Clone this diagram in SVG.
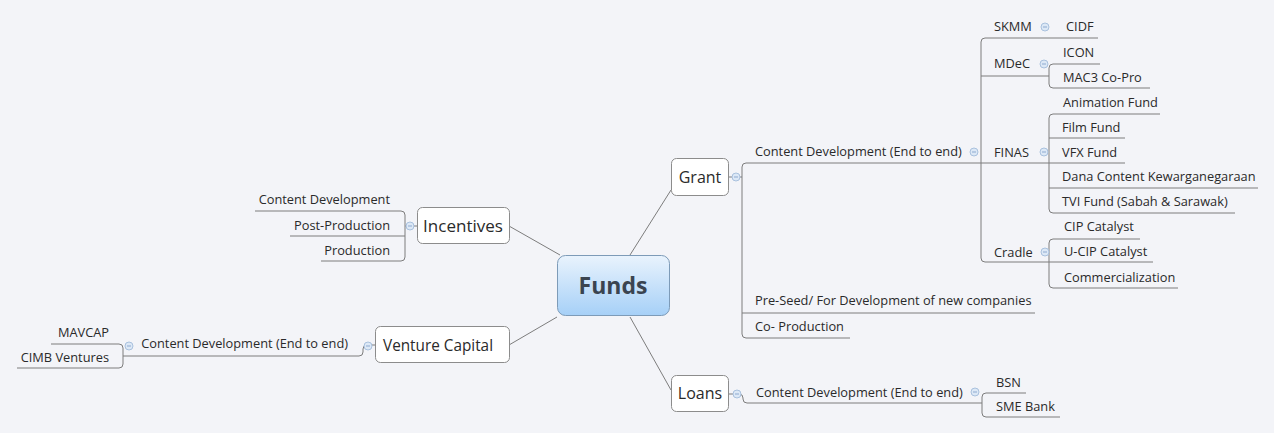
<svg xmlns="http://www.w3.org/2000/svg" width="1274" height="433" viewBox="0 0 1274 433">
<defs>
<linearGradient id="cg" x1="0" y1="0" x2="0" y2="1">
<stop offset="0" stop-color="#e9f3fd"/>
<stop offset="1" stop-color="#a6d0f7"/>
</linearGradient>
<style>
.t{font-family:"Open Sans","Noto Sans","Liberation Sans",sans-serif;font-size:12.8px;fill:#2a2a2a}
.r{text-anchor:end}
.b{font-family:"Open Sans","Noto Sans","Liberation Sans",sans-serif;font-size:16px;fill:#2a2a2a;text-anchor:middle}
.box{fill:#ffffff;stroke:#8c8c8c;stroke-width:1}
.ul{stroke:#7d7d7d;stroke-width:1;fill:none}
.c{fill:none;stroke:#7d7d7d;stroke-width:1}
.k{fill:#dce8f6;stroke:#a9c1de;stroke-width:1}
.km{stroke:#8eaad0;stroke-width:1}
</style>
</defs>
<rect width="1274" height="433" fill="#f3f4f8"/>
<g id="connectors">
<path class="c" d="M630,255 L671,190"/>
<path class="c" d="M560,255 L509,226"/>
<path class="c" d="M557,317 L509,345"/>
<path class="c" d="M630,317 L671,390"/>
<path class="c" d="M729,177 H742"/>
<path class="c" d="M746,163 Q742,163 742,167 V334 Q742,338 746,338"/>
<path class="c" d="M985,38 Q981,38 981,42 V258 Q981,262 985,262"/>
<path class="c" d="M1053,64 Q1049,64 1049,68 V84 Q1049,88 1053,88"/>
<path class="c" d="M1053,114 Q1049,114 1049,118 V209 Q1049,213 1053,213"/>
<path class="c" d="M1053,239 Q1049,239 1049,243 V284 Q1049,288 1053,288"/>
<path class="c" d="M729,394 H739 Q743,394 743,398 V399 Q743,403 747,403"/>
<path class="c" d="M986,393 Q982,393 982,397 V413 Q982,417 986,417"/>
<path class="c" d="M417,226 H405"/>
<path class="c" d="M401,211 Q405,211 405,215 V257 Q405,261 401,261"/>
<path class="c" d="M375,345 H367 Q363,345 363,349 V352 Q363,356 359,356"/>
<path class="c" d="M119,344 Q123,344 123,348 V364 Q123,368 119,368"/>
</g>
<g id="funds">
<rect x="557.5" y="255.5" width="112" height="60" rx="8" fill="url(#cg)" stroke="#7d9bb8"/>
<text x="613" y="294" style="font-family:'Open Sans','Noto Sans','Liberation Sans',sans-serif;font-size:23px;font-weight:bold;fill:#3a4450;text-anchor:middle">Funds</text>
</g>
<g id="grant">
<rect class="box" x="671.5" y="158.5" width="57" height="37" rx="5"/>
<text class="b" x="700" y="183">Grant</text>
<circle class="k" cx="736" cy="177" r="4"/><line class="km" x1="734" y1="177" x2="738" y2="177"/>
</g>
<g id="grant-content">
<line class="ul" x1="746" y1="163" x2="981" y2="163"/>
<text class="t" x="755" y="156">Content Development (End to end)</text>
<circle class="k" cx="974" cy="152" r="4"/><line class="km" x1="972" y1="152" x2="976" y2="152"/>
</g>
<g id="skmm">
<line class="ul" x1="985" y1="38" x2="1046" y2="38"/>
<text class="t" x="994" y="31">SKMM</text>
<circle class="k" cx="1045" cy="27" r="4"/><line class="km" x1="1043" y1="27" x2="1047" y2="27"/>
</g>
<g id="cidf">
<line class="ul" x1="1046" y1="38" x2="1098" y2="38"/>
<text class="t" x="1066" y="31">CIDF</text>
</g>
<g id="mdec">
<line class="ul" x1="981" y1="76" x2="1049" y2="76"/>
<text class="t" x="994" y="68">MDeC</text>
<circle class="k" cx="1044" cy="64" r="4"/><line class="km" x1="1042" y1="64" x2="1046" y2="64"/>
</g>
<g id="icon">
<line class="ul" x1="1053" y1="64" x2="1100" y2="64"/>
<text class="t" x="1063" y="57">ICON</text>
</g>
<g id="mac3">
<line class="ul" x1="1053" y1="88" x2="1150" y2="88"/>
<text class="t" x="1063" y="82">MAC3 Co-Pro</text>
</g>
<g id="finas">
<line class="ul" x1="981" y1="163" x2="1049" y2="163"/>
<text class="t" x="994" y="157">FINAS</text>
<circle class="k" cx="1044" cy="152" r="4"/><line class="km" x1="1042" y1="152" x2="1046" y2="152"/>
</g>
<g id="animation-fund">
<line class="ul" x1="1053" y1="114" x2="1160" y2="114"/>
<text class="t" x="1063" y="107">Animation Fund</text>
</g>
<g id="film-fund">
<line class="ul" x1="1049" y1="138" x2="1125" y2="138"/>
<text class="t" x="1062" y="132">Film Fund</text>
</g>
<g id="vfx-fund">
<line class="ul" x1="1049" y1="163" x2="1125" y2="163"/>
<text class="t" x="1062" y="157">VFX Fund</text>
</g>
<g id="dana">
<line class="ul" x1="1049" y1="188" x2="1258" y2="188"/>
<text class="t" x="1062" y="181">Dana Content Kewarganegaraan</text>
</g>
<g id="tvi">
<line class="ul" x1="1053" y1="213" x2="1235" y2="213"/>
<text class="t" x="1062" y="206">TVI Fund (Sabah &amp; Sarawak)</text>
</g>
<g id="cradle">
<line class="ul" x1="985" y1="262" x2="1049" y2="262"/>
<text class="t" x="994" y="257">Cradle</text>
<circle class="k" cx="1045" cy="252" r="4"/><line class="km" x1="1043" y1="252" x2="1047" y2="252"/>
</g>
<g id="cip">
<line class="ul" x1="1053" y1="239" x2="1140" y2="239"/>
<text class="t" x="1064" y="231">CIP Catalyst</text>
</g>
<g id="ucip">
<line class="ul" x1="1049" y1="262" x2="1153" y2="262"/>
<text class="t" x="1064" y="256">U-CIP Catalyst</text>
</g>
<g id="commercialization">
<line class="ul" x1="1053" y1="288" x2="1178" y2="288"/>
<text class="t" x="1064" y="282">Commercialization</text>
</g>
<g id="preseed">
<line class="ul" x1="742" y1="313" x2="1035" y2="313"/>
<text class="t" x="755" y="305">Pre-Seed/ For Development of new companies</text>
</g>
<g id="coproduction">
<line class="ul" x1="746" y1="338" x2="850" y2="338"/>
<text class="t" x="755" y="331">Co- Production</text>
</g>
<g id="loans">
<rect class="box" x="671.5" y="375.5" width="57" height="36" rx="5"/>
<text class="b" x="700" y="399">Loans</text>
<circle class="k" cx="737" cy="394" r="4"/><line class="km" x1="735" y1="394" x2="739" y2="394"/>
</g>
<g id="loans-content">
<line class="ul" x1="747" y1="403" x2="982" y2="403"/>
<text class="t" x="756" y="397">Content Development (End to end)</text>
<circle class="k" cx="975" cy="392" r="4"/><line class="km" x1="973" y1="392" x2="977" y2="392"/>
</g>
<g id="bsn">
<line class="ul" x1="986" y1="393" x2="1026" y2="393"/>
<text class="t" x="996" y="387">BSN</text>
</g>
<g id="sme-bank">
<line class="ul" x1="986" y1="417" x2="1060" y2="417"/>
<text class="t" x="996" y="411">SME Bank</text>
</g>
<g id="incentives">
<rect class="box" x="417.5" y="207.5" width="92" height="36" rx="5"/>
<text class="b" x="463" y="232" style="font-size:17px">Incentives</text>
<circle class="k" cx="410" cy="226" r="4"/><line class="km" x1="408" y1="226" x2="412" y2="226"/>
</g>
<g id="inc-content">
<line class="ul" x1="255" y1="211" x2="401" y2="211"/>
<text class="t r" x="390" y="204">Content Development</text>
</g>
<g id="inc-post">
<line class="ul" x1="290" y1="236" x2="405" y2="236"/>
<text class="t r" x="390" y="230">Post-Production</text>
</g>
<g id="inc-production">
<line class="ul" x1="321" y1="261" x2="401" y2="261"/>
<text class="t r" x="390" y="255">Production</text>
</g>
<g id="venture-capital">
<rect class="box" x="375.5" y="326.5" width="134" height="36" rx="5"/>
<text class="b" x="438" y="351" style="font-size:17px" textLength="110" lengthAdjust="spacingAndGlyphs">Venture Capital</text>
<circle class="k" cx="368" cy="346" r="4"/><line class="km" x1="366" y1="346" x2="370" y2="346"/>
</g>
<g id="vc-content">
<line class="ul" x1="123" y1="356" x2="359" y2="356"/>
<text class="t r" x="348" y="348">Content Development (End to end)</text>
<circle class="k" cx="129" cy="346" r="4"/><line class="km" x1="127" y1="346" x2="131" y2="346"/>
</g>
<g id="mavcap">
<line class="ul" x1="51" y1="344" x2="119" y2="344"/>
<text class="t r" x="109" y="337">MAVCAP</text>
</g>
<g id="cimb">
<line class="ul" x1="17" y1="368" x2="119" y2="368"/>
<text class="t r" x="109" y="362">CIMB Ventures</text>
</g>
</svg>
